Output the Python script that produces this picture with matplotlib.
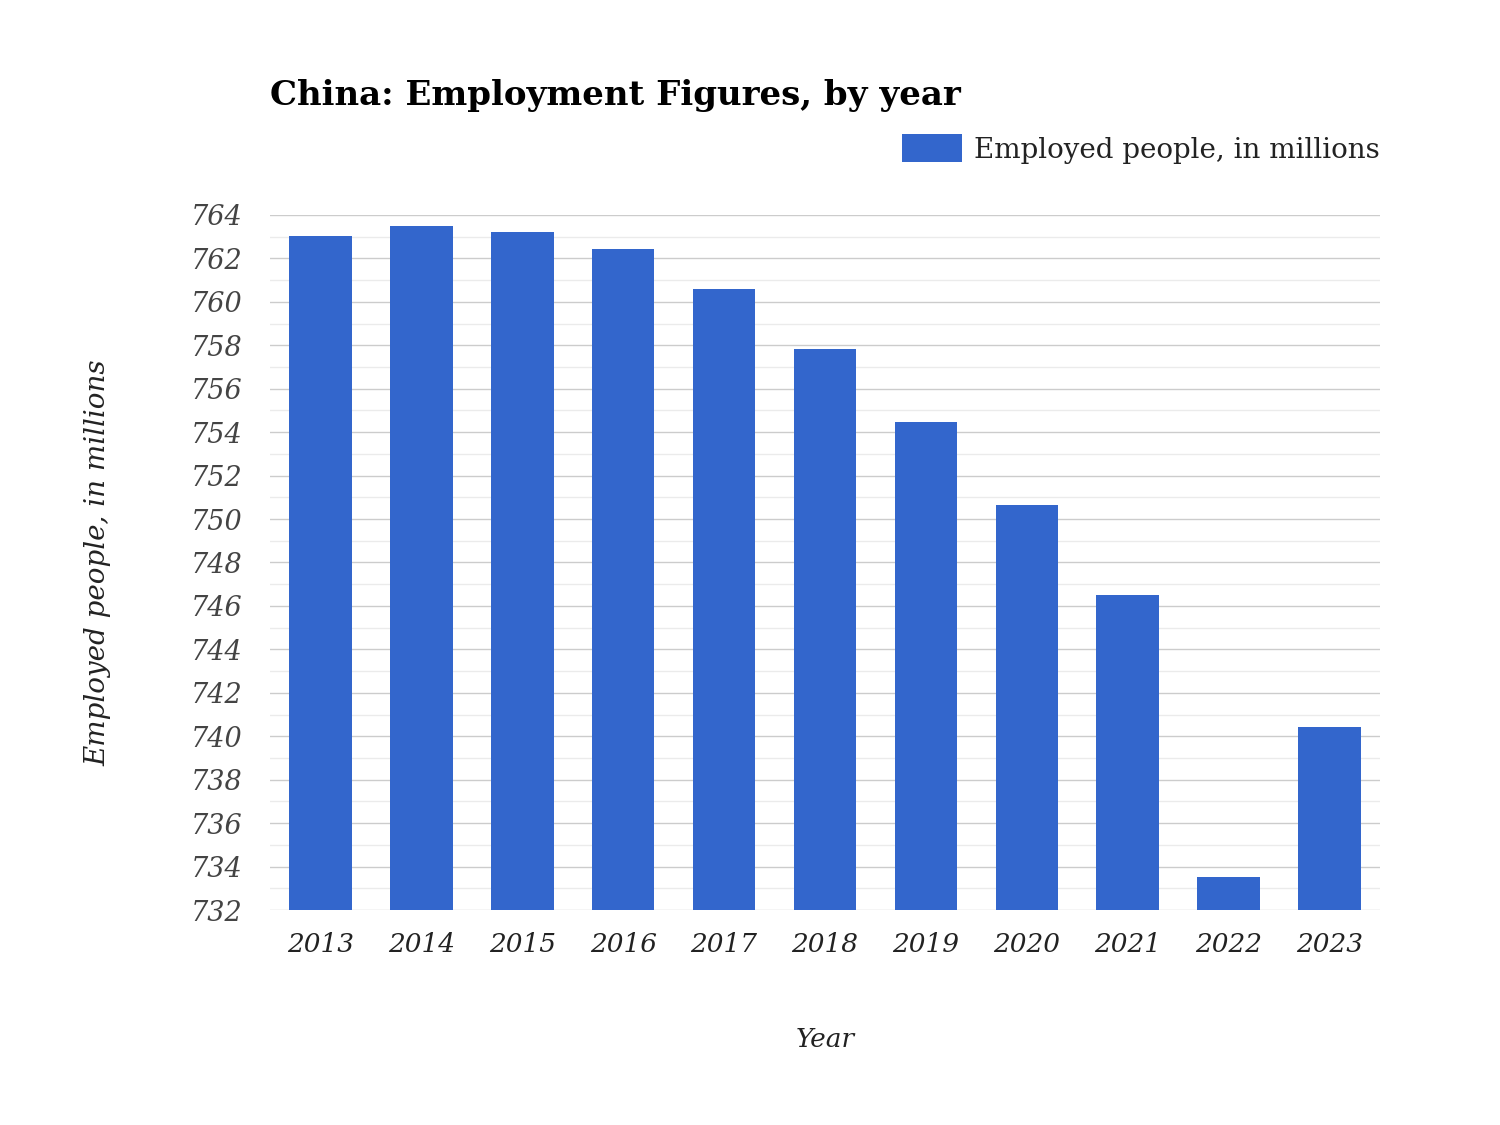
import matplotlib
matplotlib.use("Agg")
import matplotlib.pyplot as plt
from matplotlib.ticker import MultipleLocator

years = ["2013", "2014", "2015", "2016", "2017", "2018", "2019", "2020", "2021", "2022", "2023"]
employed = [763.01, 763.49, 763.20, 762.45, 760.58, 757.82, 754.47, 750.64, 746.52, 733.51, 740.41]

plt.rcParams["font.family"] = ["DejaVu Serif"]

fig = plt.figure(figsize=(15, 11.25), dpi=100)
ax = fig.add_axes([0.18, 0.1911, 0.74, 0.6178])

ax.bar(years, employed, width=0.62, color="#3366cc", label="Employed people, in millions", zorder=3)

ax.set_ylim(732, 764)
ax.set_xlim(-0.5, len(years) - 0.5)
ax.yaxis.set_major_locator(MultipleLocator(2))
ax.yaxis.set_minor_locator(MultipleLocator(1))
ax.grid(axis="y", which="major", color="#cccccc", linewidth=1, zorder=0)
ax.grid(axis="y", which="minor", color="#ebebeb", linewidth=1, zorder=0)

for s in ax.spines.values():
    s.set_visible(False)
ax.tick_params(axis="both", which="both", length=0)
ax.tick_params(axis="y", labelsize=19.5, labelcolor="#444444", pad=20)
ax.tick_params(axis="x", labelsize=19, labelcolor="#222222", pad=16)
for lab in ax.get_xticklabels() + ax.get_yticklabels():
    lab.set_style("italic")

ax.set_xlabel("Year", fontsize=19, style="italic", color="#222222", labelpad=50)
ax.set_ylabel("Employed people, in millions", fontsize=20, style="italic", color="#222222", labelpad=57)

fig.text(0.18, 0.915, "China: Employment Figures, by year", fontsize=24.5, fontweight="bold",
         color="#000000", ha="left", va="center")

leg = ax.legend(loc="lower right", bbox_to_anchor=(1.0, 1.074), frameon=False, fontsize=20,
                handlelength=2.16, handleheight=1.15, handletextpad=0.43, borderaxespad=0, borderpad=0)
for t in leg.get_texts():
    t.set_color("#222222")

fig.savefig("out.png", dpi=100)
